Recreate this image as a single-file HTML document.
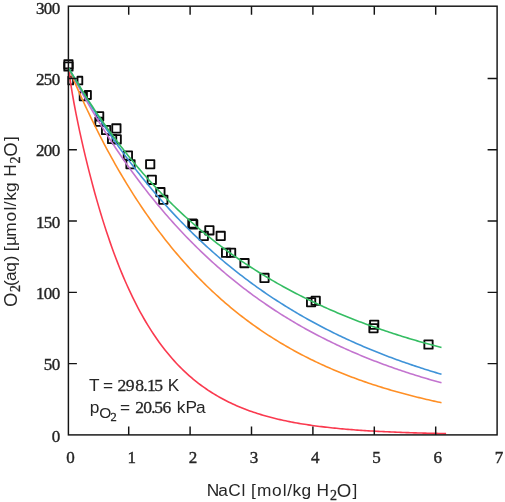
<!DOCTYPE html>
<html><head><meta charset="utf-8"><title>O2 solubility in NaCl</title>
<style>
html,body{margin:0;padding:0;background:#fff;}
svg{display:block;}
text{fill:#262626;}
</style></head><body>
<svg width="505" height="502" viewBox="0 0 505 502">
<rect x="0" y="0" width="505" height="502" fill="#fff"/>

<g fill="none" stroke="#0a0a0a" stroke-width="1.85" stroke-linejoin="round">
<rect x="64.30" y="60.15" width="8.3" height="8.3"/>
<rect x="64.30" y="62.35" width="8.3" height="8.3"/>
<rect x="68.30" y="76.70" width="4.8" height="7.7"/>
<rect x="77.50" y="76.70" width="4.8" height="7.7"/>
<rect x="79.70" y="92.05" width="7.2" height="8.3"/>
<rect x="84.90" y="91.00" width="6.0" height="8.0"/>
<rect x="96.30" y="112.15" width="7.0" height="8.3"/>
<rect x="95.30" y="117.55" width="7.0" height="8.3"/>
<rect x="101.95" y="125.85" width="8.3" height="8.3"/>
<rect x="112.25" y="124.25" width="8.3" height="8.3"/>
<rect x="107.95" y="134.85" width="8.3" height="8.3"/>
<rect x="112.55" y="135.15" width="8.3" height="8.3"/>
<rect x="123.75" y="151.35" width="8.3" height="8.3"/>
<rect x="126.35" y="160.05" width="8.3" height="8.3"/>
<rect x="146.05" y="160.05" width="8.3" height="8.3"/>
<rect x="147.65" y="175.65" width="8.3" height="8.3"/>
<rect x="156.25" y="187.95" width="8.3" height="8.3"/>
<rect x="159.15" y="195.55" width="8.3" height="8.3"/>
<rect x="188.25" y="219.35" width="8.3" height="8.3"/>
<rect x="189.05" y="220.15" width="8.3" height="8.3"/>
<rect x="199.65" y="231.75" width="8.3" height="8.3"/>
<rect x="205.25" y="226.15" width="8.3" height="8.3"/>
<rect x="216.55" y="231.75" width="8.3" height="8.3"/>
<rect x="221.95" y="248.65" width="8.3" height="8.3"/>
<rect x="226.95" y="248.65" width="8.3" height="8.3"/>
<rect x="240.35" y="258.95" width="8.3" height="8.3"/>
<rect x="260.35" y="273.75" width="8.3" height="8.3"/>
<rect x="306.95" y="298.05" width="8.3" height="8.3"/>
<rect x="311.55" y="296.65" width="8.3" height="8.3"/>
<rect x="370.05" y="320.55" width="8.3" height="8.3"/>
<rect x="369.35" y="324.05" width="8.3" height="8.3"/>
<rect x="424.35" y="340.35" width="8.3" height="8.3"/>
</g>
<g fill="none" stroke-width="1.6" stroke-linecap="butt" stroke-linejoin="round">
<polyline stroke="#fa3a4f" points="68.50,67.70 70.39,81.46 72.28,93.33 74.16,104.01 76.05,113.88 77.94,123.20 79.83,132.08 81.72,140.62 83.60,148.87 85.49,156.86 87.38,164.60 89.27,172.12 91.16,179.42 93.04,186.52 94.93,193.42 96.82,200.12 98.71,206.64 100.60,212.98 102.48,219.14 104.37,225.13 106.26,230.95 108.15,236.61 110.04,242.12 111.92,247.47 113.81,252.67 115.70,257.73 117.59,262.65 119.48,267.43 121.37,272.08 123.25,276.60 125.14,280.99 127.03,285.26 128.92,289.42 130.81,293.46 132.69,297.38 134.58,301.20 136.47,304.91 138.36,308.52 140.25,312.03 142.13,315.44 144.02,318.75 145.91,321.98 147.80,325.11 149.69,328.16 151.57,331.12 153.46,334.00 155.35,336.80 157.24,339.53 159.13,342.18 161.01,344.75 162.90,347.25 164.79,349.68 166.68,352.05 168.57,354.35 170.45,356.59 172.34,358.76 174.23,360.87 176.12,362.93 178.01,364.93 179.89,366.87 181.78,368.76 183.67,370.59 185.56,372.38 187.45,374.11 189.33,375.80 191.22,377.44 193.11,379.04 195.00,380.59 196.89,382.09 198.77,383.56 200.66,384.99 202.55,386.37 204.44,387.72 206.33,389.03 208.21,390.30 210.10,391.54 211.99,392.74 213.88,393.91 215.77,395.05 217.66,396.16 219.54,397.23 221.43,398.28 223.32,399.29 225.21,400.28 227.10,401.24 228.98,402.18 230.87,403.09 232.76,403.97 234.65,404.83 236.54,405.66 238.42,406.47 240.31,407.26 242.20,408.03 244.09,408.78 245.98,409.50 247.86,410.21 249.75,410.89 251.64,411.56 253.53,412.21 255.42,412.84 257.30,413.45 259.19,414.04 261.08,414.62 262.97,415.19 264.86,415.73 266.74,416.27 268.63,416.78 270.52,417.29 272.41,417.77 274.30,418.25 276.18,418.71 278.07,419.16 279.96,419.60 281.85,420.02 283.74,420.44 285.62,420.84 287.51,421.23 289.40,421.61 291.29,421.98 293.18,422.34 295.06,422.68 296.95,423.02 298.84,423.35 300.73,423.67 302.62,423.98 304.50,424.29 306.39,424.58 308.28,424.87 310.17,425.15 312.06,425.42 313.95,425.68 315.83,425.94 317.72,426.19 319.61,426.43 321.50,426.66 323.39,426.89 325.27,427.11 327.16,427.33 329.05,427.54 330.94,427.74 332.83,427.94 334.71,428.14 336.60,428.32 338.49,428.51 340.38,428.68 342.27,428.86 344.15,429.02 346.04,429.19 347.93,429.35 349.82,429.50 351.71,429.65 353.59,429.80 355.48,429.94 357.37,430.08 359.26,430.21 361.15,430.34 363.03,430.47 364.92,430.59 366.81,430.71 368.70,430.83 370.59,430.94 372.47,431.05 374.36,431.16 376.25,431.26 378.14,431.36 380.03,431.46 381.91,431.55 383.80,431.65 385.69,431.74 387.58,431.82 389.47,431.91 391.35,431.99 393.24,432.07 395.13,432.15 397.02,432.23 398.91,432.30 400.80,432.37 402.68,432.44 404.57,432.51 406.46,432.58 408.35,432.64 410.24,432.71 412.12,432.77 414.01,432.83 415.90,432.88 417.79,432.94 419.68,432.99 421.56,433.05 423.45,433.10 425.34,433.15 427.23,433.20 429.12,433.24 431.00,433.29 432.89,433.34 434.78,433.38 436.67,433.42 438.56,433.46 440.44,433.50 442.33,433.54 444.22,433.58 446.11,433.62"/>
<polyline stroke="#ff8f25" points="68.50,67.70 70.37,72.15 72.23,76.53 74.10,80.87 75.96,85.15 77.83,89.38 79.69,93.56 81.56,97.69 83.42,101.77 85.29,105.80 87.15,109.78 89.02,113.71 90.88,117.60 92.75,121.44 94.61,125.23 96.48,128.97 98.34,132.67 100.21,136.33 102.07,139.94 103.94,143.51 105.80,147.03 107.67,150.52 109.53,153.96 111.40,157.36 113.26,160.71 115.13,164.03 116.99,167.31 118.86,170.54 120.72,173.74 122.59,176.90 124.45,180.02 126.32,183.10 128.18,186.15 130.05,189.16 131.91,192.13 133.78,195.07 135.64,197.97 137.51,200.83 139.37,203.67 141.24,206.46 143.10,209.23 144.97,211.96 146.83,214.65 148.70,217.32 150.56,219.95 152.43,222.55 154.29,225.12 156.16,227.65 158.02,230.16 159.89,232.64 161.75,235.08 163.62,237.50 165.48,239.89 167.35,242.25 169.21,244.58 171.08,246.88 172.94,249.16 174.81,251.40 176.67,253.62 178.54,255.81 180.40,257.98 182.27,260.12 184.13,262.24 186.00,264.32 187.86,266.39 189.73,268.43 191.59,270.44 193.46,272.43 195.32,274.39 197.19,276.34 199.05,278.25 200.92,280.15 202.78,282.02 204.65,283.87 206.51,285.70 208.38,287.50 210.24,289.28 212.11,291.05 213.97,292.79 215.84,294.50 217.70,296.20 219.57,297.88 221.43,299.54 223.30,301.18 225.16,302.79 227.03,304.39 228.89,305.97 230.76,307.53 232.62,309.07 234.49,310.59 236.35,312.10 238.22,313.58 240.08,315.05 241.95,316.50 243.81,317.93 245.68,319.35 247.55,320.74 249.41,322.12 251.28,323.49 253.14,324.84 255.01,326.17 256.87,327.48 258.74,328.78 260.60,330.07 262.47,331.33 264.33,332.59 266.20,333.82 268.06,335.05 269.93,336.25 271.79,337.45 273.66,338.63 275.52,339.79 277.39,340.94 279.25,342.08 281.12,343.20 282.98,344.31 284.85,345.41 286.71,346.49 288.58,347.56 290.44,348.61 292.31,349.66 294.17,350.69 296.04,351.71 297.90,352.71 299.77,353.71 301.63,354.69 303.50,355.66 305.36,356.62 307.23,357.57 309.09,358.50 310.96,359.43 312.82,360.34 314.69,361.24 316.55,362.13 318.42,363.01 320.28,363.88 322.15,364.74 324.01,365.59 325.88,366.43 327.74,367.26 329.61,368.07 331.47,368.88 333.34,369.68 335.20,370.47 337.07,371.25 338.93,372.02 340.80,372.78 342.66,373.53 344.53,374.27 346.39,375.01 348.26,375.73 350.12,376.45 351.99,377.15 353.85,377.85 355.72,378.54 357.58,379.22 359.45,379.90 361.31,380.56 363.18,381.22 365.04,381.87 366.91,382.51 368.77,383.14 370.64,383.77 372.50,384.39 374.37,385.00 376.23,385.60 378.10,386.20 379.96,386.79 381.83,387.37 383.69,387.95 385.56,388.51 387.42,389.08 389.29,389.63 391.15,390.18 393.02,390.72 394.88,391.25 396.75,391.78 398.61,392.30 400.48,392.82 402.34,393.33 404.21,393.83 406.07,394.33 407.94,394.82 409.80,395.30 411.67,395.78 413.53,396.25 415.40,396.72 417.26,397.18 419.13,397.64 420.99,398.09 422.86,398.54 424.73,398.98 426.59,399.41 428.46,399.84 430.32,400.26 432.19,400.68 434.05,401.10 435.92,401.51 437.78,401.91 439.65,402.31 441.51,402.70"/>
<polyline stroke="#c374cf" points="68.50,67.70 70.37,71.27 72.23,74.81 74.10,78.31 75.96,81.77 77.83,85.21 79.69,88.60 81.56,91.97 83.42,95.30 85.29,98.60 87.15,101.87 89.02,105.11 90.88,108.31 92.75,111.49 94.61,114.63 96.48,117.74 98.34,120.83 100.21,123.88 102.07,126.90 103.94,129.89 105.80,132.86 107.67,135.79 109.53,138.70 111.40,141.58 113.26,144.43 115.13,147.25 116.99,150.05 118.86,152.82 120.72,155.56 122.59,158.27 124.45,160.96 126.32,163.62 128.18,166.26 130.05,168.87 131.91,171.46 133.78,174.02 135.64,176.55 137.51,179.06 139.37,181.55 141.24,184.01 143.10,186.45 144.97,188.87 146.83,191.26 148.70,193.63 150.56,195.97 152.43,198.29 154.29,200.59 156.16,202.87 158.02,205.12 159.89,207.36 161.75,209.57 163.62,211.76 165.48,213.93 167.35,216.07 169.21,218.20 171.08,220.31 172.94,222.39 174.81,224.46 176.67,226.50 178.54,228.53 180.40,230.54 182.27,232.52 184.13,234.49 186.00,236.44 187.86,238.36 189.73,240.27 191.59,242.17 193.46,244.04 195.32,245.89 197.19,247.73 199.05,249.55 200.92,251.35 202.78,253.14 204.65,254.90 206.51,256.65 208.38,258.38 210.24,260.10 212.11,261.80 213.97,263.48 215.84,265.15 217.70,266.80 219.57,268.43 221.43,270.05 223.30,271.65 225.16,273.24 227.03,274.81 228.89,276.36 230.76,277.90 232.62,279.43 234.49,280.94 236.35,282.44 238.22,283.92 240.08,285.39 241.95,286.84 243.81,288.28 245.68,289.70 247.55,291.12 249.41,292.51 251.28,293.90 253.14,295.27 255.01,296.62 256.87,297.97 258.74,299.30 260.60,300.62 262.47,301.92 264.33,303.21 266.20,304.49 268.06,305.76 269.93,307.02 271.79,308.26 273.66,309.49 275.52,310.71 277.39,311.92 279.25,313.11 281.12,314.30 282.98,315.47 284.85,316.63 286.71,317.78 288.58,318.92 290.44,320.04 292.31,321.16 294.17,322.26 296.04,323.36 297.90,324.44 299.77,325.52 301.63,326.58 303.50,327.63 305.36,328.68 307.23,329.71 309.09,330.73 310.96,331.74 312.82,332.74 314.69,333.74 316.55,334.72 318.42,335.69 320.28,336.66 322.15,337.61 324.01,338.56 325.88,339.50 327.74,340.42 329.61,341.34 331.47,342.25 333.34,343.15 335.20,344.04 337.07,344.93 338.93,345.80 340.80,346.67 342.66,347.52 344.53,348.37 346.39,349.21 348.26,350.05 350.12,350.87 351.99,351.69 353.85,352.50 355.72,353.30 357.58,354.09 359.45,354.88 361.31,355.65 363.18,356.42 365.04,357.19 366.91,357.94 368.77,358.69 370.64,359.43 372.50,360.16 374.37,360.89 376.23,361.61 378.10,362.32 379.96,363.03 381.83,363.73 383.69,364.42 385.56,365.10 387.42,365.78 389.29,366.45 391.15,367.12 393.02,367.78 394.88,368.43 396.75,369.07 398.61,369.71 400.48,370.35 402.34,370.98 404.21,371.60 406.07,372.21 407.94,372.82 409.80,373.42 411.67,374.02 413.53,374.61 415.40,375.20 417.26,375.78 419.13,376.35 420.99,376.92 422.86,377.49 424.73,378.04 426.59,378.60 428.46,379.14 430.32,379.69 432.19,380.22 434.05,380.75 435.92,381.28 437.78,381.80 439.65,382.32 441.51,382.83"/>
<polyline stroke="#3f93d8" points="68.50,67.70 70.37,71.00 72.23,74.26 74.10,77.49 75.96,80.70 77.83,83.87 79.69,87.02 81.56,90.14 83.42,93.23 85.29,96.29 87.15,99.33 89.02,102.34 90.88,105.32 92.75,108.27 94.61,111.20 96.48,114.10 98.34,116.98 100.21,119.83 102.07,122.65 103.94,125.45 105.80,128.23 107.67,130.98 109.53,133.70 111.40,136.40 113.26,139.08 115.13,141.73 116.99,144.36 118.86,146.96 120.72,149.55 122.59,152.10 124.45,154.64 126.32,157.15 128.18,159.64 130.05,162.11 131.91,164.56 133.78,166.98 135.64,169.38 137.51,171.76 139.37,174.12 141.24,176.46 143.10,178.78 144.97,181.07 146.83,183.35 148.70,185.60 150.56,187.84 152.43,190.05 154.29,192.25 156.16,194.42 158.02,196.58 159.89,198.72 161.75,200.83 163.62,202.93 165.48,205.01 167.35,207.07 169.21,209.12 171.08,211.14 172.94,213.15 174.81,215.13 176.67,217.10 178.54,219.06 180.40,220.99 182.27,222.91 184.13,224.81 186.00,226.69 187.86,228.56 189.73,230.41 191.59,232.24 193.46,234.06 195.32,235.86 197.19,237.65 199.05,239.41 200.92,241.17 202.78,242.90 204.65,244.63 206.51,246.33 208.38,248.02 210.24,249.70 212.11,251.36 213.97,253.00 215.84,254.63 217.70,256.25 219.57,257.85 221.43,259.44 223.30,261.01 225.16,262.57 227.03,264.12 228.89,265.65 230.76,267.16 232.62,268.67 234.49,270.16 236.35,271.64 238.22,273.10 240.08,274.55 241.95,275.99 243.81,277.41 245.68,278.82 247.55,280.22 249.41,281.61 251.28,282.98 253.14,284.35 255.01,285.70 256.87,287.03 258.74,288.36 260.60,289.67 262.47,290.98 264.33,292.27 266.20,293.54 268.06,294.81 269.93,296.07 271.79,297.31 273.66,298.55 275.52,299.77 277.39,300.98 279.25,302.18 281.12,303.37 282.98,304.55 284.85,305.72 286.71,306.88 288.58,308.02 290.44,309.16 292.31,310.29 294.17,311.41 296.04,312.51 297.90,313.61 299.77,314.70 301.63,315.78 303.50,316.84 305.36,317.90 307.23,318.95 309.09,319.99 310.96,321.02 312.82,322.04 314.69,323.05 316.55,324.06 318.42,325.05 320.28,326.03 322.15,327.01 324.01,327.98 325.88,328.94 327.74,329.89 329.61,330.83 331.47,331.76 333.34,332.69 335.20,333.60 337.07,334.51 338.93,335.41 340.80,336.30 342.66,337.19 344.53,338.06 346.39,338.93 348.26,339.79 350.12,340.64 351.99,341.49 353.85,342.33 355.72,343.16 357.58,343.98 359.45,344.79 361.31,345.60 363.18,346.40 365.04,347.20 366.91,347.98 368.77,348.76 370.64,349.53 372.50,350.30 374.37,351.06 376.23,351.81 378.10,352.55 379.96,353.29 381.83,354.02 383.69,354.75 385.56,355.47 387.42,356.18 389.29,356.89 391.15,357.58 393.02,358.28 394.88,358.96 396.75,359.65 398.61,360.32 400.48,360.99 402.34,361.65 404.21,362.31 406.07,362.96 407.94,363.60 409.80,364.24 411.67,364.88 413.53,365.50 415.40,366.13 417.26,366.74 419.13,367.35 420.99,367.96 422.86,368.56 424.73,369.15 426.59,369.74 428.46,370.33 430.32,370.91 432.19,371.48 434.05,372.05 435.92,372.61 437.78,373.17 439.65,373.72 441.51,374.27"/>
<polyline stroke="#35bd63" points="68.50,67.70 70.37,70.93 72.23,74.11 74.10,77.26 75.96,80.38 77.83,83.47 79.69,86.52 81.56,89.54 83.42,92.53 85.29,95.49 87.15,98.42 89.02,101.32 90.88,104.18 92.75,107.02 94.61,109.82 96.48,112.60 98.34,115.35 100.21,118.07 102.07,120.76 103.94,123.42 105.80,126.06 107.67,128.67 109.53,131.25 111.40,133.80 113.26,136.33 115.13,138.83 116.99,141.31 118.86,143.76 120.72,146.19 122.59,148.59 124.45,150.96 126.32,153.32 128.18,155.64 130.05,157.95 131.91,160.23 133.78,162.48 135.64,164.72 137.51,166.93 139.37,169.12 141.24,171.29 143.10,173.43 144.97,175.55 146.83,177.66 148.70,179.74 150.56,181.80 152.43,183.84 154.29,185.85 156.16,187.85 158.02,189.83 159.89,191.79 161.75,193.73 163.62,195.65 165.48,197.55 167.35,199.43 169.21,201.29 171.08,203.13 172.94,204.96 174.81,206.77 176.67,208.56 178.54,210.33 180.40,212.08 182.27,213.82 184.13,215.54 186.00,217.24 187.86,218.93 189.73,220.60 191.59,222.25 193.46,223.89 195.32,225.51 197.19,227.11 199.05,228.70 200.92,230.28 202.78,231.84 204.65,233.38 206.51,234.91 208.38,236.42 210.24,237.92 212.11,239.40 213.97,240.87 215.84,242.33 217.70,243.77 219.57,245.20 221.43,246.61 223.30,248.01 225.16,249.40 227.03,250.77 228.89,252.13 230.76,253.48 232.62,254.82 234.49,256.14 236.35,257.45 238.22,258.74 240.08,260.03 241.95,261.30 243.81,262.56 245.68,263.81 247.55,265.04 249.41,266.27 251.28,267.48 253.14,268.68 255.01,269.87 256.87,271.05 258.74,272.22 260.60,273.38 262.47,274.52 264.33,275.66 266.20,276.79 268.06,277.90 269.93,279.00 271.79,280.10 273.66,281.18 275.52,282.25 277.39,283.32 279.25,284.37 281.12,285.41 282.98,286.45 284.85,287.47 286.71,288.49 288.58,289.49 290.44,290.49 292.31,291.48 294.17,292.45 296.04,293.42 297.90,294.38 299.77,295.34 301.63,296.28 303.50,297.21 305.36,298.14 307.23,299.05 309.09,299.96 310.96,300.86 312.82,301.76 314.69,302.64 316.55,303.52 318.42,304.38 320.28,305.24 322.15,306.10 324.01,306.94 325.88,307.78 327.74,308.61 329.61,309.43 331.47,310.25 333.34,311.05 335.20,311.85 337.07,312.65 338.93,313.43 340.80,314.21 342.66,314.98 344.53,315.75 346.39,316.51 348.26,317.26 350.12,318.00 351.99,318.74 353.85,319.47 355.72,320.20 357.58,320.92 359.45,321.63 361.31,322.34 363.18,323.03 365.04,323.73 366.91,324.42 368.77,325.10 370.64,325.77 372.50,326.44 374.37,327.11 376.23,327.76 378.10,328.42 379.96,329.06 381.83,329.70 383.69,330.34 385.56,330.97 387.42,331.59 389.29,332.21 391.15,332.82 393.02,333.43 394.88,334.04 396.75,334.63 398.61,335.23 400.48,335.81 402.34,336.39 404.21,336.97 406.07,337.54 407.94,338.11 409.80,338.67 411.67,339.23 413.53,339.78 415.40,340.33 417.26,340.88 419.13,341.41 420.99,341.95 422.86,342.48 424.73,343.00 426.59,343.52 428.46,344.04 430.32,344.55 432.19,345.06 434.05,345.56 435.92,346.06 437.78,346.55 439.65,347.04 441.51,347.53"/>
</g>
<g fill="none" stroke="#141414" stroke-width="1.45" stroke-linecap="butt">
<rect x="68.4" y="6.2" width="428.70" height="428.70"/>
<path d="M128.70,434.9V426.40M128.70,6.2V14.70M190.10,434.9V426.40M190.10,6.2V14.70M251.50,434.9V426.40M251.50,6.2V14.70M312.90,434.9V426.40M312.90,6.2V14.70M374.30,434.9V426.40M374.30,6.2V14.70M435.70,434.9V426.40M435.70,6.2V14.70M68.4,363.62H76.90M497.1,363.62H487.60M68.4,292.35H76.90M497.1,292.35H487.60M68.4,221.07H76.90M497.1,221.07H487.60M68.4,149.80H76.90M497.1,149.80H487.60M68.4,78.52H76.90M497.1,78.52H487.60"/>
</g>
<g font-family="Liberation Serif" font-size="17" stroke="#262626" stroke-width="0.4">
<text x="70.50" y="462.5" text-anchor="middle">0</text>
<text x="131.70" y="462.5" text-anchor="middle">1</text>
<text x="192.90" y="462.5" text-anchor="middle">2</text>
<text x="254.10" y="462.5" text-anchor="middle">3</text>
<text x="315.30" y="462.5" text-anchor="middle">4</text>
<text x="376.50" y="462.5" text-anchor="middle">5</text>
<text x="437.70" y="462.5" text-anchor="middle">6</text>
<text x="498.90" y="462.5" text-anchor="middle">7</text>
<text x="59.6" y="441.50" text-anchor="end" letter-spacing="-0.6">0</text>
<text x="59.6" y="370.23" text-anchor="end" letter-spacing="-0.6">50</text>
<text x="59.6" y="298.95" text-anchor="end" letter-spacing="-0.6">100</text>
<text x="59.6" y="227.67" text-anchor="end" letter-spacing="-0.6">150</text>
<text x="59.6" y="156.40" text-anchor="end" letter-spacing="-0.6">200</text>
<text x="59.6" y="85.12" text-anchor="end" letter-spacing="-0.6">250</text>
<text x="59.6" y="13.85" text-anchor="end" letter-spacing="-0.6">300</text>
</g>
<text xml:space="preserve"><tspan font-family="Liberation Sans" font-size="17.3" x="206.63 218.36 228.30 241.51 244.50 250.88 256.95 271.92 282.81 287.22 292.60 301.40 310.20 316.58" y="496.0">NaCl [mol/kg H</tspan><tspan font-family="Liberation Serif" font-size="14" x="329.96" y="500.2" stroke="#262626" stroke-width="0.3">2</tspan><tspan font-family="Liberation Sans" font-size="18.68" x="336.70" y="496.5">O</tspan><tspan font-family="Liberation Sans" font-size="17.3" x="352.51" y="496.0">]</tspan></text>
<text transform="translate(16.3,306.0) rotate(-90)" xml:space="preserve"><tspan font-family="Liberation Sans" font-size="18.68" x="-1.05" y="0.5">O</tspan><tspan font-family="Liberation Serif" font-size="14" x="14.11" y="3.9" stroke="#262626" stroke-width="0.3">2</tspan><tspan font-family="Liberation Sans" font-size="17.3" x="20.01 25.01 34.15 44.62 49.00 54.78 59.99 69.30 84.52 95.41 99.82 105.20 114.00 122.80 129.18" y="0">(aq) [µmol/kg H</tspan><tspan font-family="Liberation Serif" font-size="14" x="142.56" y="3.9" stroke="#262626" stroke-width="0.3">2</tspan><tspan font-family="Liberation Sans" font-size="18.68" x="149.30" y="0.5">O</tspan><tspan font-family="Liberation Sans" font-size="17.3" x="165.11" y="0">]</tspan></text>
<text xml:space="preserve"><tspan font-family="Liberation Sans" font-size="17.3" x="89.03 99.00 102.91 112.20" y="390.6">T = </tspan><tspan font-family="Liberation Serif" font-size="17.6" x="117.59 125.65 135.30 143.20 146.97 154.36 162.40" y="390.6" stroke="#262626" stroke-width="0.3">298.15 </tspan><tspan font-family="Liberation Sans" font-size="17.3" x="167.85" y="390.6">K</tspan></text>
<text xml:space="preserve"><tspan font-family="Liberation Sans" font-size="17.3" x="89.65" y="412.6">p</tspan><tspan font-family="Liberation Sans" font-size="15.5" x="99.20" y="417.6">O</tspan><tspan font-family="Liberation Serif" font-size="12.5" x="110.45 116.10" y="420.7" stroke="#262626" stroke-width="0.3">2 </tspan><tspan font-family="Liberation Sans" font-size="17.3" x="120.06 129.00" y="412.6">= </tspan><tspan font-family="Liberation Serif" font-size="17.6" x="135.19 143.25 151.20 154.36 162.56 170.80" y="412.6" stroke="#262626" stroke-width="0.3">20.56 </tspan><tspan font-family="Liberation Sans" font-size="17.3" x="176.65 185.57 195.96" y="412.6">kPa</tspan></text>
</svg></body></html>
